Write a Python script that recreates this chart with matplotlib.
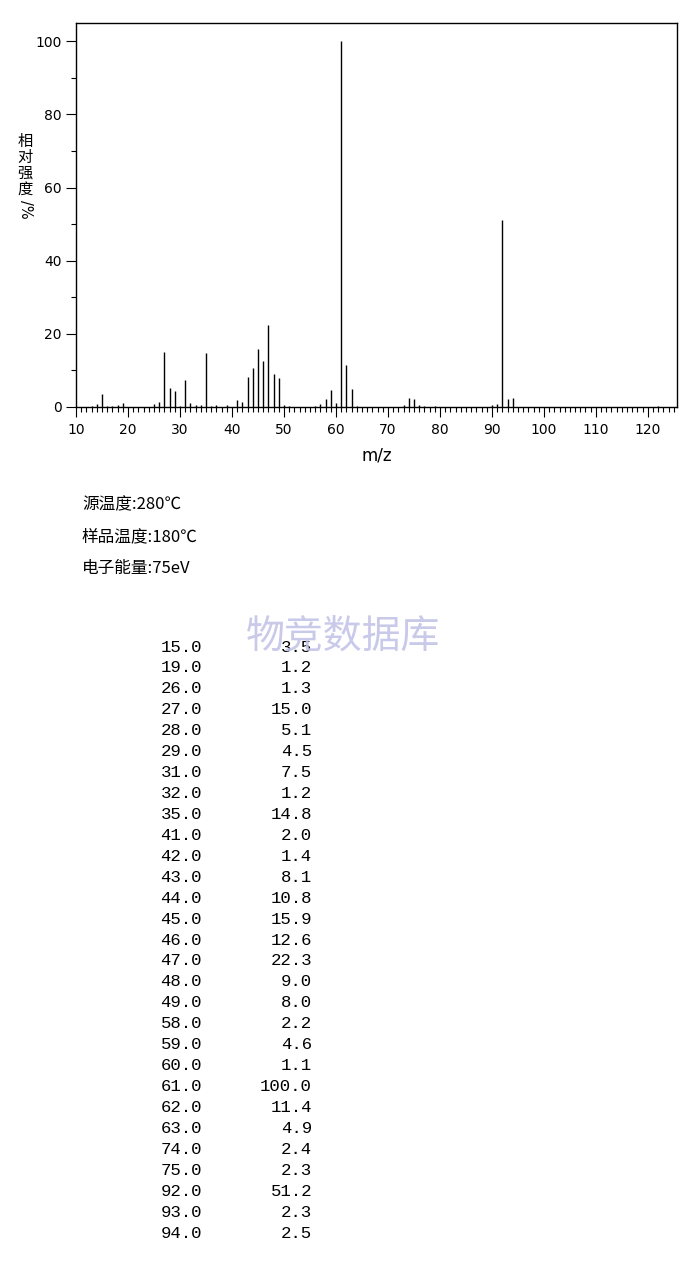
import matplotlib
matplotlib.use('Agg')
import matplotlib.pyplot as plt
from matplotlib.ticker import MultipleLocator

# peaks listed in the table (m/z, relative intensity %)
mz = [15, 19, 26, 27, 28, 29, 31, 32, 35, 41, 42, 43, 44, 45, 46, 47, 48, 49,
      58, 59, 60, 61, 62, 63, 74, 75, 92, 93, 94]
intensity = [3.5, 1.2, 1.3, 15.0, 5.1, 4.5, 7.5, 1.2, 14.8, 2.0, 1.4, 8.1, 10.8,
             15.9, 12.6, 22.3, 9.0, 8.0, 2.2, 4.6, 1.1, 100.0, 11.4, 4.9, 2.4,
             2.3, 51.2, 2.3, 2.5]

# small peaks (< 1 %) visible in the spectrum but not in the table
minor_mz = [13, 14, 16, 17, 18, 25, 30, 33, 34, 36, 37, 39, 50, 51, 56, 57,
            64, 73, 76, 77, 79, 90, 91, 122]
minor_int = [0.3, 0.9, 0.4, 0.4, 0.5, 0.8, 0.3, 0.6, 0.6, 0.4, 0.6, 0.5, 0.5,
             0.4, 0.3, 0.8, 0.3, 0.5, 0.6, 0.3, 0.2, 0.5, 0.9, 0.3]

info_lines = ['源温度:280℃', '样品温度:180℃', '电子能量:75eV']
ylabel_chars = ['相', '对', '强', '度']

W, H = 687, 1276
fig = plt.figure(figsize=(W / 100, H / 100), dpi=100)

# axes box in pixels: left 76, right 677, top 23, bottom 407
ax = fig.add_axes([76 / W, 1 - 407 / H, (677 - 76) / W, (407 - 23) / H])

ax.vlines(mz, 0, intensity, color='black', lw=1.0)
ax.vlines(minor_mz, 0, minor_int, color='black', lw=1.0)

ax.set_xlim(10, 125.6)
ax.set_ylim(0, 105)

ax.xaxis.set_major_locator(MultipleLocator(10))
ax.xaxis.set_minor_locator(MultipleLocator(1))
ax.yaxis.set_major_locator(MultipleLocator(20))
ax.yaxis.set_minor_locator(MultipleLocator(10))
ax.tick_params(axis='both', which='major', direction='out', length=7.2, width=0.8,
               labelsize=10, pad=3)
ax.tick_params(axis='both', which='minor', direction='out', length=3.8, width=0.8)
ax.tick_params(axis='x', which='major', pad=4)
for s in ax.spines.values():
    s.set_linewidth(1.0)

fig.text(376.5 / W, 1 - 455 / H, 'm/z', ha='center', va='center', fontsize=12,
         family='DejaVu Sans')

# vertical y label: upright CJK characters then rotated "/%"
for i, ch in enumerate(ylabel_chars):
    fig.text(25 / W, 1 - (141 + i * 16.2) / H, ch, ha='center', va='center',
             fontsize=11, family=['Noto Sans CJK SC', 'DejaVu Sans'])
fig.text(25 / W, 1 - 209 / H, '/%', ha='center', va='center', rotation=-90,
         fontsize=10.5, family='DejaVu Sans')

# experiment conditions
for i, line in enumerate(info_lines):
    fig.text(82 / W, 1 - (505 + i * 31.5) / H, line, ha='left', va='center',
             fontsize=12, family=['Noto Sans CJK SC', 'DejaVu Sans'])

# peak table
for i, (m, v) in enumerate(zip(mz, intensity)):
    y = 1 - (647 + i * 20.93) / H
    fig.text(202 / W, y, '%.1f' % m, ha='right', va='center', fontsize=12.5,
             family='Liberation Mono')
    fig.text(312 / W, y, '%.1f' % v, ha='right', va='center', fontsize=12.5,
             family='Liberation Mono')

# watermark
fig.text(343.5 / W, 1 - 638 / H, '物竞数据库', ha='center', va='center',
         fontsize=28, color='#c3c3e8', alpha=0.9,
         family=['Noto Sans CJK SC', 'DejaVu Sans'])

fig.savefig('out.png', dpi=100, facecolor='white')
